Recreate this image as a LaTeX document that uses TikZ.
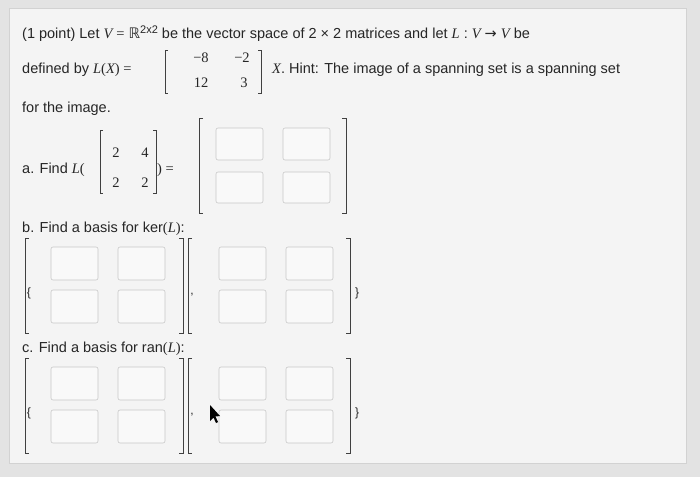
\documentclass[tikz,border=0pt]{standalone}
\usepackage{fontspec}
\setmainfont{Liberation Sans}
\newfontfamily\myserif{Liberation Serif}
\newfontfamily\mydejavu{DejaVu Sans}
\newcommand{\myit}[1]{{\myserif\itshape #1}}
\newcommand{\myrm}[1]{{\myserif #1}}
\begin{document}
\begin{tikzpicture}[x=1pt,y=-1pt,
  txt/.style={anchor=base west,inner sep=0pt,font=\fontsize{14.5}{16}\selectfont,text=black!85},
  ent/.style={inner sep=0pt,font=\myserif\fontsize{14.5}{16}\selectfont,text=black!85},
  box/.style={draw=black!22,fill=white!60!gray!12,rounded corners=2pt,line width=0.6pt},
  brk/.style={draw=black!75,line width=0.8pt}]
\fill[gray!22] (0,0) rectangle (700,477);
\fill[gray!9] (9,8) rectangle (686,463);
\draw[gray!35] (9,8) rectangle (686,463);
% line 1
\node[txt] (l1) at (22,38) {(1 point) Let \myit{V} \myrm{=} {\mydejavu ℝ}\raisebox{5pt}{\fontsize{11}{11}\selectfont 2x2} be the vector space of 2 × 2 matrices and let \myit{L} : \myit{V} {\mydejavu →} \myit{V} be};
% line 2
\node[txt] (l2) at (22,73) {defined by \myit{L}\myrm{(}\myit{X}\myrm{) =}};
\draw[brk] (168,50) -- (165,50) -- (165,93) -- (168,93);
\draw[brk] (258,50) -- (261,50) -- (261,93) -- (258,93);
\node[ent] (m11) at (201,58) {−8};
\node[ent] (m12) at (242,58) {−2};
\node[ent] (m21) at (201,83) {12};
\node[ent] (m22) at (244,83) {3};
\node[txt] (l2b) at (272,73) {\myit{X}. Hint: The image of a spanning set is a spanning set};
\node[txt] (l3) at (22,112) {for the image.};
% a
\node[txt] (a) at (22,173) {a. Find \myit{L}\myrm{(}};
\draw[brk] (103,130) -- (100,130) -- (100,193) -- (103,193);
\draw[brk] (153,130) -- (156,130) -- (156,193) -- (153,193);
\node[ent] (s11) at (116,153) {2};
\node[ent] (s12) at (145,153) {4};
\node[ent] (s21) at (116,183) {2};
\node[ent] (s22) at (145,183) {2};
\node[txt] (aeq) at (157,173) {\myrm{) =}};
\draw[brk] (203,118) -- (199,118) -- (199,213) -- (203,213);
\draw[brk] (342,118) -- (346,118) -- (346,213) -- (342,213);
\foreach \x in {216,283}{
  \draw[box] (\x,128) rectangle ++(47,32);
  \draw[box] (\x,172) rectangle ++(47,31);}
% b
\node[txt] (b) at (22,232) {b. Find a basis for ker\myrm{(}\myit{L}\myrm{)}:};
\node[txt] (c) at (22,352) {c. Find a basis for ran\myrm{(}\myit{L}\myrm{)}:};
\foreach \t in {238,358}{
  \node[ent,font=\fontsize{12}{12}\selectfont] at (29,\t+55) {\{};
  \node[ent,font=\fontsize{12}{12}\selectfont] at (192,\t+57) {,};
  \node[ent,font=\fontsize{12}{12}\selectfont] at (357,\t+55) {\}};
  \draw[brk] (29,\t) -- (25,\t) -- (25,\t+95) -- (29,\t+95);
  \draw[brk] (179,\t) -- (183,\t) -- (183,\t+95) -- (179,\t+95);
  \draw[brk] (192,\t) -- (188,\t) -- (188,\t+95) -- (192,\t+95);
  \draw[brk] (346,\t) -- (350,\t) -- (350,\t+95) -- (346,\t+95);
  \foreach \x in {51,118,219,286}{
    \draw[box] (\x,\t+9) rectangle ++(47,33);
    \draw[box] (\x,\t+52) rectangle ++(47,33);}
}
% cursor
\fill[black] (210,405) -- (210,421) -- (213.5,417.5) -- (216,423) -- (218,422) -- (215.5,416.5) -- (220,416) -- cycle;
\end{tikzpicture}
\end{document}
